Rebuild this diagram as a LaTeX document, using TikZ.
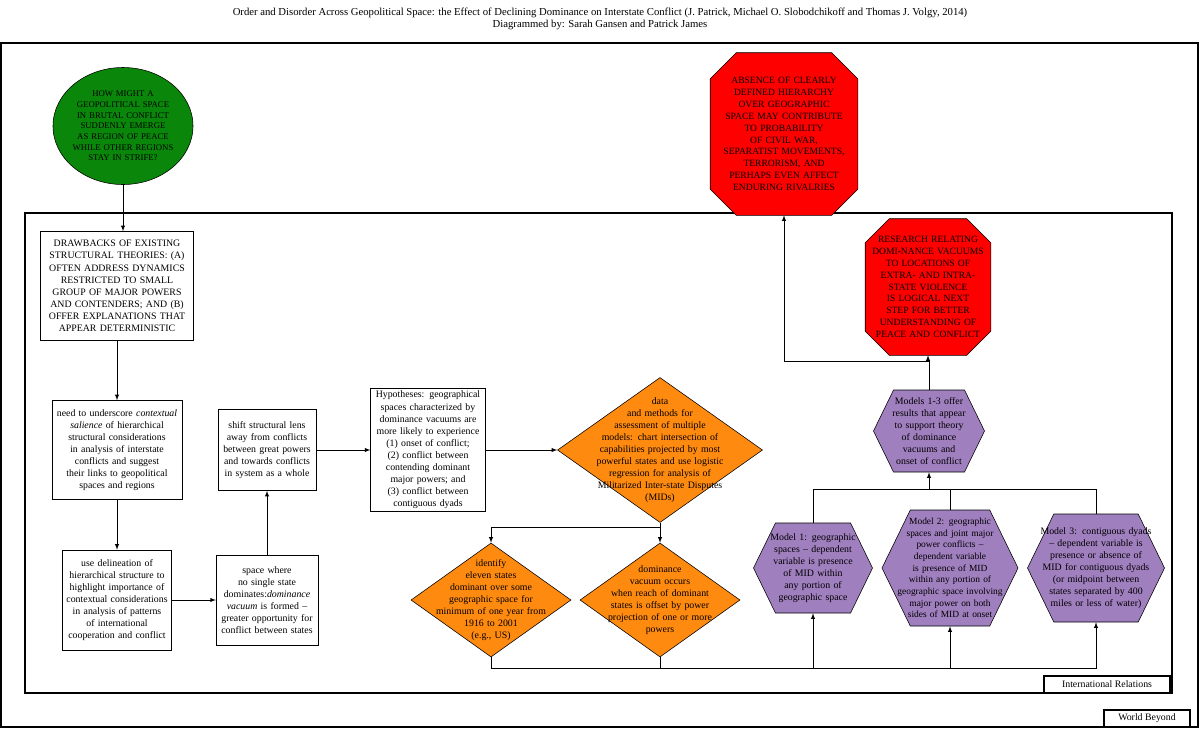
\documentclass[tikz,border=0pt]{standalone}
\usepackage{fontspec}
\setmainfont{Liberation Serif}
\usetikzlibrary{shapes.geometric,shapes.symbols}
\definecolor{qgreen}{HTML}{0A870A}
\definecolor{qred}{HTML}{FF0000}
\definecolor{qorange}{HTML}{FF8A10}
\definecolor{qpurple}{HTML}{A07FBF}
\hyphenpenalty=10000
% octagon drawn behind a named node, corner cut of #2 px
\newcommand\octbehind[2]{\fill[qred, draw=black]
  ([xshift=#2*0.025cm]#1.north west) -- ([xshift=-#2*0.025cm]#1.north east)
  -- ([yshift=-#2*0.025cm]#1.north east) -- ([yshift=#2*0.025cm]#1.south east)
  -- ([xshift=-#2*0.025cm]#1.south east) -- ([xshift=#2*0.025cm]#1.south west)
  -- ([yshift=#2*0.025cm]#1.south west) -- ([yshift=-#2*0.025cm]#1.north west) -- cycle;}
\begin{document}
\begin{tikzpicture}[x=0.025cm, y=-0.025cm, font=\fontsize{7}{8.6}\selectfont,
    frame/.style ={draw, line width=1pt},
    tag/.style ={draw, line width=1pt, inner sep=1pt, font=\fontsize{7}{8}\selectfont},
    box/.style ={rectangle, draw, fill=white, align=center, inner sep=2pt},
    start/.style ={ellipse, draw, fill=qgreen, inner sep=0pt},
    stop/.style ={rectangle, align=center, inner sep=0pt},
    choice/.style ={diamond, draw, fill=qorange, inner sep=0pt},
    model/.style ={signal, signal to=west and east, signal pointer angle=128, draw,
      fill=qpurple, inner sep=0pt},
    inside/.style ={align=center, inner sep=0pt},
    link/.style ={draw, -latex}]
   \useasboundingbox (0,0) rectangle (1200,733);
   \node (title) at (600,19) [align=center, font=\fontsize{7.6}{9}\selectfont]
     {Order and Disorder Across Geopolitical Space: the Effect of Declining Dominance on Interstate Conflict (J. Patrick, Michael O. Slobodchikoff and Thomas J. Volgy, 2014)\\Diagrammed by: Sarah Gansen and Patrick James};
   \draw[frame] (1,43) rectangle (1198,727);
   \draw[frame] (25,213) rectangle (1172,693);
   \node[tag, minimum width=126*0.025cm, minimum height=17*0.025cm] (ir) at (1107,684.5) {International Relations};
   \node[tag, minimum width=86*0.025cm, minimum height=17*0.025cm] (wb) at (1147,718.5) {World Beyond};

   \node[start, minimum width=140*0.025cm, minimum height=117*0.025cm,
     label={[inside, text width=104*0.025cm, font=\fontsize{6.2}{7.6}\selectfont]center:HOW MIGHT A GEOPOLITICAL SPACE IN BRUTAL CONFLICT SUDDENLY EMERGE AS REGION OF PEACE WHILE OTHER REGIONS STAY IN STRIFE?}] (Q) at (123,126) {};
   \node[stop, minimum width=147*0.025cm, minimum height=162*0.025cm] (R1) at (784,134) {};
   \octbehind{R1}{26}
   \node[stop, text width=128*0.025cm, font=\fontsize{6.8}{8.4}\selectfont] (R1text) at (R1)
     {ABSENCE OF CLEARLY DEFINED HIERARCHY OVER GEOGRAPHIC SPACE MAY CONTRIBUTE TO PROBABILITY OF CIVIL WAR, SEPARATIST MOVEMENTS, TERRORISM, AND PERHAPS EVEN AFFECT ENDURING RIVALRIES};
   \node[stop, minimum width=125*0.025cm, minimum height=136*0.025cm] (R2) at (928,287) {};
   \octbehind{R2}{24}
   \node[stop, text width=112*0.025cm, font=\fontsize{6.8}{8.4}\selectfont] (R2text) at (R2)
     {RESEARCH RELATING DOMI-NANCE VACUUMS TO LOCATIONS OF EXTRA- AND INTRA-STATE VIOLENCE IS LOGICAL NEXT STEP FOR BETTER UNDERSTANDING OF PEACE AND CONFLICT};

   \node[box, text width=147*0.025cm, minimum height=109*0.025cm] (A) at (117,286)
     {DRAWBACKS OF EXISTING STRUCTURAL THEORIES: (A) OFTEN ADDRESS DYNAMICS RESTRICTED TO SMALL GROUP OF MAJOR POWERS AND CONTENDERS; AND (B) OFFER EXPLANATIONS THAT APPEAR DETERMINISTIC};
   \node[box, text width=124*0.025cm, minimum height=99*0.025cm] (B) at (117,450)
     {need to underscore \textit{contextual salience} of hierarchical structural considerations in analysis of interstate conflicts and suggest their links to geopolitical spaces and regions};
   \node[box, text width=103*0.025cm, minimum height=100*0.025cm] (C) at (117,600)
     {use delineation of hierarchical structure to highlight importance of contextual considerations in analysis of patterns of international cooperation and conflict};
   \node[box, text width=96*0.025cm, minimum height=90*0.025cm] (D) at (267,600)
     {space where no single state dominates:\textit{dominance vacuum} is formed -- greater opportunity for conflict between states};
   \node[box, text width=92*0.025cm, minimum height=81*0.025cm] (E) at (267,450)
     {shift structural lens away from conflicts between great powers and towards conflicts in system as a whole};
   \node[box, text width=109*0.025cm, minimum height=111*0.025cm] (F) at (428,450)
     {Hypotheses: geographical spaces characterized by dominance vacuums are more likely to experience (1) onset of conflict; (2) conflict between contending dominant major powers; and (3) conflict between contiguous dyads};

   \node[choice, minimum width=205*0.025cm, minimum height=145*0.025cm,
     label={[inside, text width=130*0.025cm]center:data\\and methods for\\assessment of multiple models: chart intersection of capabilities projected by most powerful states and use logistic regression for analysis of Militarized Inter-state Disputes\\(MIDs)}] (G) at (660,450) {};
   \node[choice, minimum width=160*0.025cm, minimum height=114*0.025cm,
     label={[inside, text width=112*0.025cm]center:identify\\eleven states\\dominant over some geographic space for minimum of one year from\\1916 to 2001\\(e.g., US)}] (H) at (491,600) {};
   \node[choice, minimum width=160*0.025cm, minimum height=114*0.025cm,
     label={[inside, text width=120*0.025cm]center:dominance\\vacuum occurs\\when reach of dominant states is offset by power projection of one or more\\powers}] (I) at (660,600) {};

   \node[model, minimum width=111*0.025cm, minimum height=82*0.025cm,
     label={[inside, text width=80*0.025cm]center:Models 1-3 offer results that appear to support theory of dominance vacuums and onset of conflict}] (M) at (929,431) {};
   \node[model, minimum width=119*0.025cm, minimum height=90*0.025cm,
     label={[inside, text width=92*0.025cm]center:Model 1: geographic spaces -- dependent variable is presence of MID within any portion of geographic space}] (M1) at (813,568) {};
   \node[model, minimum width=136*0.025cm, minimum height=116*0.025cm,
     label={[inside, text width=108*0.025cm, font=\fontsize{6.7}{8.3}\selectfont]center:Model 2: geographic spaces and joint major power conflicts -- dependent variable is presence of MID within any portion of geographic space involving major power on both sides of MID at onset}] (M2) at (950,568) {};
   \node[model, minimum width=137*0.025cm, minimum height=108*0.025cm,
     label={[inside, text width=112*0.025cm]center:Model 3: contiguous dyads -- dependent variable is presence or absence of MID for contiguous dyads (or midpoint between states separated by 400 miles or less of water)}] (M3) at (1096,568) {};

   \draw[link] (Q.south) -- (Q.south |- A.north);
   \draw[link] (A) -- (B);
   \draw[link] (B) -- (C);
   \draw[link] (C) -- (D);
   \draw[link] (D) -- (E);
   \draw[link] (E) -- (F);
   \draw[link] (F) -- (G);
   \draw[link] (G.south) -- ++(0,4) -| (H.north);
   \draw[link] (G.south) -- (I.north);
   \draw[link] (H.south) -- ++(0,11) -| (M3.south);
   \draw[link] (I.south) -- ++(0,11) -| (M1.south);
   \draw[link] (I.south) -- ++(0,11) -| (M2.south);
   \draw (M1.north) -- ++(0,-33) -| (M3.north);
   \draw[link] (M2.north) -- ++(0,-20) -| (M.south);
   \draw[link] (M.north) -- ++(0,-28) -| (R1.south);
   \draw[link] (M.north) -- ++(0,-28) -| (R2.south);
 \end{tikzpicture}
\end{document}
